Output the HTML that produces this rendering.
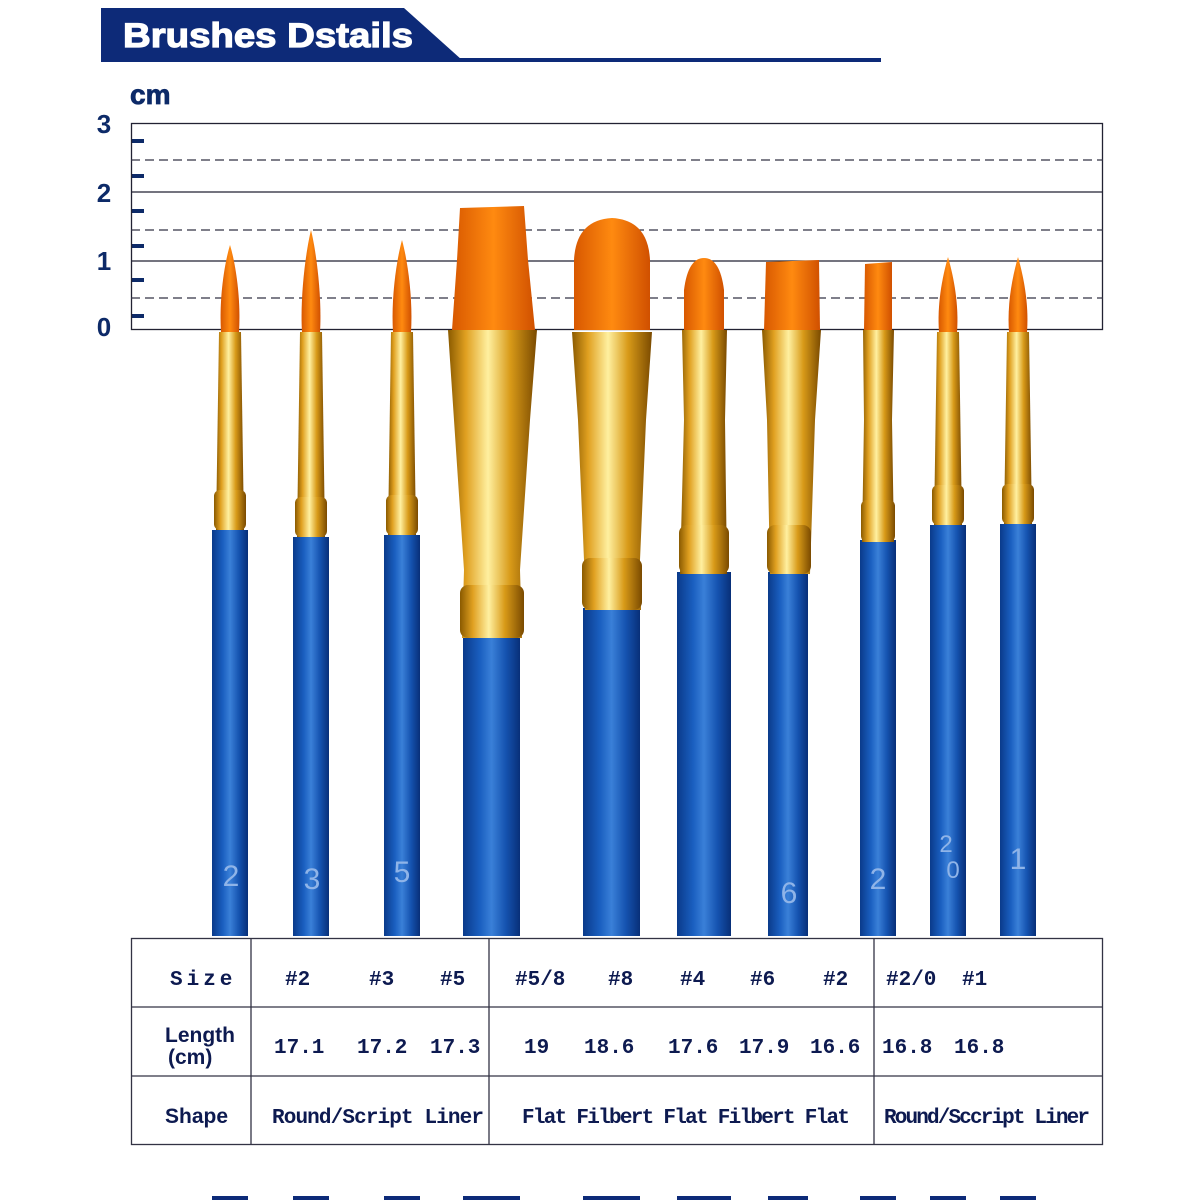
<!DOCTYPE html>
<html><head><meta charset="utf-8"><style>
body{margin:0;background:#fff}
svg{display:block}
</style></head><body>
<svg width="1200" height="1200" viewBox="0 0 1200 1200" xmlns="http://www.w3.org/2000/svg">
<defs>
<linearGradient id="gold" x1="0" x2="1" y1="0" y2="0">
<stop offset="0" stop-color="#8a5a00"/><stop offset="0.2" stop-color="#e0a020"/><stop offset="0.45" stop-color="#fff0a0"/><stop offset="0.7" stop-color="#d89a18"/><stop offset="1" stop-color="#7a4a00"/>
</linearGradient>
<linearGradient id="blue" x1="0" x2="1" y1="0" y2="0">
<stop offset="0" stop-color="#0a3a8a"/><stop offset="0.3" stop-color="#1a5fc0"/><stop offset="0.5" stop-color="#3a80d8"/><stop offset="0.75" stop-color="#1553b0"/><stop offset="1" stop-color="#082f78"/>
</linearGradient>
<linearGradient id="hair" x1="0" x2="1" y1="0" y2="0">
<stop offset="0" stop-color="#d85800"/><stop offset="0.5" stop-color="#ff8a10"/><stop offset="1" stop-color="#d05000"/>
</linearGradient>
</defs>
<!-- header -->
<polygon points="101,8 404,8 462,60 101,60" fill="#0d2a78"/>
<rect x="101" y="58" width="780" height="4" fill="#0d2a78"/>
<text x="123" y="47" font-family="Liberation Sans, sans-serif" font-weight="bold" font-size="34" fill="#fff" stroke="#fff" stroke-width="1.2" textLength="290" lengthAdjust="spacingAndGlyphs">Brushes Dstails</text>
<text x="130" y="104" font-family="Liberation Sans, sans-serif" font-weight="bold" font-size="28" fill="#0d2a68" stroke="#0d2a68" stroke-width="0.8">cm</text>
<!-- axis labels -->
<g font-family="Liberation Sans, sans-serif" font-weight="bold" font-size="26" fill="#0d2a68" text-anchor="middle">
<text x="104" y="133">3</text><text x="104" y="202">2</text><text x="104" y="270">1</text><text x="104" y="336">0</text>
</g>
<g fill="#0d2a68">
<rect x="131" y="139" width="13" height="4"/><rect x="131" y="174" width="13" height="4"/><rect x="131" y="209" width="13" height="4"/><rect x="131" y="244" width="13" height="4"/><rect x="131" y="278" width="13" height="4"/><rect x="131" y="314" width="13" height="4"/>
</g>
<rect x="131.5" y="123.5" width="971" height="206" fill="none" stroke="#223" stroke-width="1.3"/>
<line x1="131" y1="192" x2="1103" y2="192" stroke="#223" stroke-width="1.2"/>
<line x1="131" y1="261" x2="1103" y2="261" stroke="#223" stroke-width="1.2"/>
<g stroke="#334" stroke-width="1.2" stroke-dasharray="9,5">
<line x1="131" y1="160" x2="1103" y2="160"/><line x1="131" y1="230" x2="1103" y2="230"/><line x1="131" y1="298" x2="1103" y2="298"/>
</g>
<!-- brushes -->
<g>
<rect x="212" y="530" width="36" height="406" fill="url(#blue)"/>
<polygon points="219,332 241,332 244,530 216,530" fill="url(#gold)"/>
<rect x="214" y="490" width="32" height="40" rx="6" fill="url(#gold)"/>
<path d="M230,245 C236,265 241,300 239,332 L221,332 C219,300 224,265 230,245Z" fill="url(#hair)"/>
<rect x="293" y="537" width="36" height="399" fill="url(#blue)"/>
<polygon points="300,332 322,332 325,537 297,537" fill="url(#gold)"/>
<rect x="295" y="497" width="32" height="40" rx="6" fill="url(#gold)"/>
<path d="M311,230 C317,255 322,300 320,332 L302,332 C300,300 305,255 311,230Z" fill="url(#hair)"/>
<rect x="384" y="535" width="36" height="401" fill="url(#blue)"/>
<polygon points="391,332 413,332 416,535 388,535" fill="url(#gold)"/>
<rect x="386" y="495" width="32" height="40" rx="6" fill="url(#gold)"/>
<path d="M402,240 C408,262 413,300 411,332 L393,332 C391,300 396,262 402,240Z" fill="url(#hair)"/>
<rect x="463" y="636" width="57" height="300" fill="url(#blue)"/>
<path d="M448,330 L537,330 L530,420 L520,570 L522,638 L462,638 L464,570 L454,420Z" fill="url(#gold)"/>
<rect x="460" y="585" width="64" height="53" rx="8" fill="url(#gold)"/>
<path d="M460,208 L524,206 L528,260 L535,330 L452,330 L457,260Z" fill="url(#hair)"/>
<rect x="583" y="608" width="57" height="328" fill="url(#blue)"/>
<path d="M572,332 L652,332 L646,420 L640,560 L641,610 L585,610 L584,560 L578,420Z" fill="url(#gold)"/>
<rect x="582" y="558" width="60" height="52" rx="8" fill="url(#gold)"/>
<path d="M574,330 L574,260 Q576,220 612,218 Q648,220 650,260 L650,330Z" fill="url(#hair)"/>
<rect x="677" y="572" width="54" height="364" fill="url(#blue)"/>
<path d="M682,330 L727,330 L725,420 L727,574 L680,574 L684,420Z" fill="url(#gold)"/>
<rect x="679" y="525" width="50" height="49" rx="8" fill="url(#gold)"/>
<path d="M684,330 L684,290 Q688,258 704,258 Q720,258 724,290 L724,330Z" fill="url(#hair)"/>
<rect x="768" y="572" width="40" height="364" fill="url(#blue)"/>
<path d="M762,330 L821,330 L815,420 L810,574 L770,574 L767,420Z" fill="url(#gold)"/>
<rect x="767" y="525" width="44" height="49" rx="8" fill="url(#gold)"/>
<path d="M766,262 L819,260 L820,330 L764,330Z" fill="url(#hair)"/>
<rect x="860" y="540" width="36" height="396" fill="url(#blue)"/>
<polygon points="863,330 894,330 892,420 894,542 862,542 864,420" fill="url(#gold)"/>
<rect x="861" y="500" width="34" height="42" rx="6" fill="url(#gold)"/>
<path d="M865,264 L892,262 L892,330 L864,330Z" fill="url(#hair)"/>
<rect x="930" y="525" width="36" height="411" fill="url(#blue)"/>
<polygon points="937,332 959,332 962,525 934,525" fill="url(#gold)"/>
<rect x="932" y="485" width="32" height="40" rx="6" fill="url(#gold)"/>
<path d="M948,257 C954,278 959,305 957,332 L939,332 C937,305 942,278 948,257Z" fill="url(#hair)"/>
<rect x="1000" y="524" width="36" height="412" fill="url(#blue)"/>
<polygon points="1007,332 1029,332 1032,524 1004,524" fill="url(#gold)"/>
<rect x="1002" y="484" width="32" height="40" rx="6" fill="url(#gold)"/>
<path d="M1018,257 C1024,278 1029,305 1027,332 L1009,332 C1007,305 1012,278 1018,257Z" fill="url(#hair)"/>
</g>
<g font-family="Liberation Sans, sans-serif" font-size="30" fill="#8fb4e8" text-anchor="middle">
<text x="231" y="886">2</text><text x="312" y="889">3</text><text x="402" y="882">5</text><text x="789" y="903">6</text><text x="878" y="889">2</text><text x="1018" y="869">1</text>
<text x="946" y="852" font-size="24">2</text><text x="953" y="878" font-size="24">0</text>
</g>
<!-- table -->
<g stroke="#334" stroke-width="1.3" fill="none">
<rect x="131.5" y="938.5" width="971" height="206"/>
<line x1="131" y1="1007" x2="1103" y2="1007"/><line x1="131" y1="1076" x2="1103" y2="1076"/>
<line x1="251" y1="938" x2="251" y2="1145"/><line x1="489" y1="938" x2="489" y2="1145"/><line x1="874" y1="938" x2="874" y2="1145"/>
</g>
<g font-family="Liberation Mono, monospace" font-size="21" font-weight="bold" fill="#0d1a50">
<text x="170" y="985" letter-spacing="4">Size</text>
<text x="285" y="985">#2</text><text x="369" y="985">#3</text><text x="440" y="985">#5</text>
<text x="515" y="985">#5/8</text><text x="608" y="985">#8</text><text x="680" y="985">#4</text><text x="750" y="985">#6</text><text x="823" y="985">#2</text>
<text x="886" y="985">#2/0</text><text x="962" y="985">#1</text>
<text x="165" y="1042" font-family="Liberation Sans, sans-serif">Length</text>
<text x="168" y="1064" font-family="Liberation Sans, sans-serif">(cm)</text>
<text x="274" y="1053">17.1</text><text x="357" y="1053">17.2</text><text x="430" y="1053">17.3</text>
<text x="524" y="1053">19</text><text x="584" y="1053">18.6</text><text x="668" y="1053">17.6</text><text x="739" y="1053">17.9</text><text x="810" y="1053">16.6</text>
<text x="882" y="1053">16.8</text><text x="954" y="1053">16.8</text>
<text x="165" y="1123" font-family="Liberation Sans, sans-serif">Shape</text>
<text x="272" y="1123" textLength="212">Round/Script Liner</text>
<text x="522" y="1123" textLength="328">Flat Filbert Flat Filbert Flat</text>
<text x="884" y="1123" textLength="206">Round/Sccript Liner</text>
</g>
<g fill="#0d2a78">
<rect x="212" y="1196" width="36" height="4"/><rect x="293" y="1196" width="36" height="4"/><rect x="384" y="1196" width="36" height="4"/><rect x="463" y="1196" width="57" height="4"/><rect x="583" y="1196" width="57" height="4"/><rect x="677" y="1196" width="54" height="4"/><rect x="768" y="1196" width="40" height="4"/><rect x="860" y="1196" width="36" height="4"/><rect x="930" y="1196" width="36" height="4"/><rect x="1000" y="1196" width="36" height="4"/>
</g>
</svg>
</body></html>
